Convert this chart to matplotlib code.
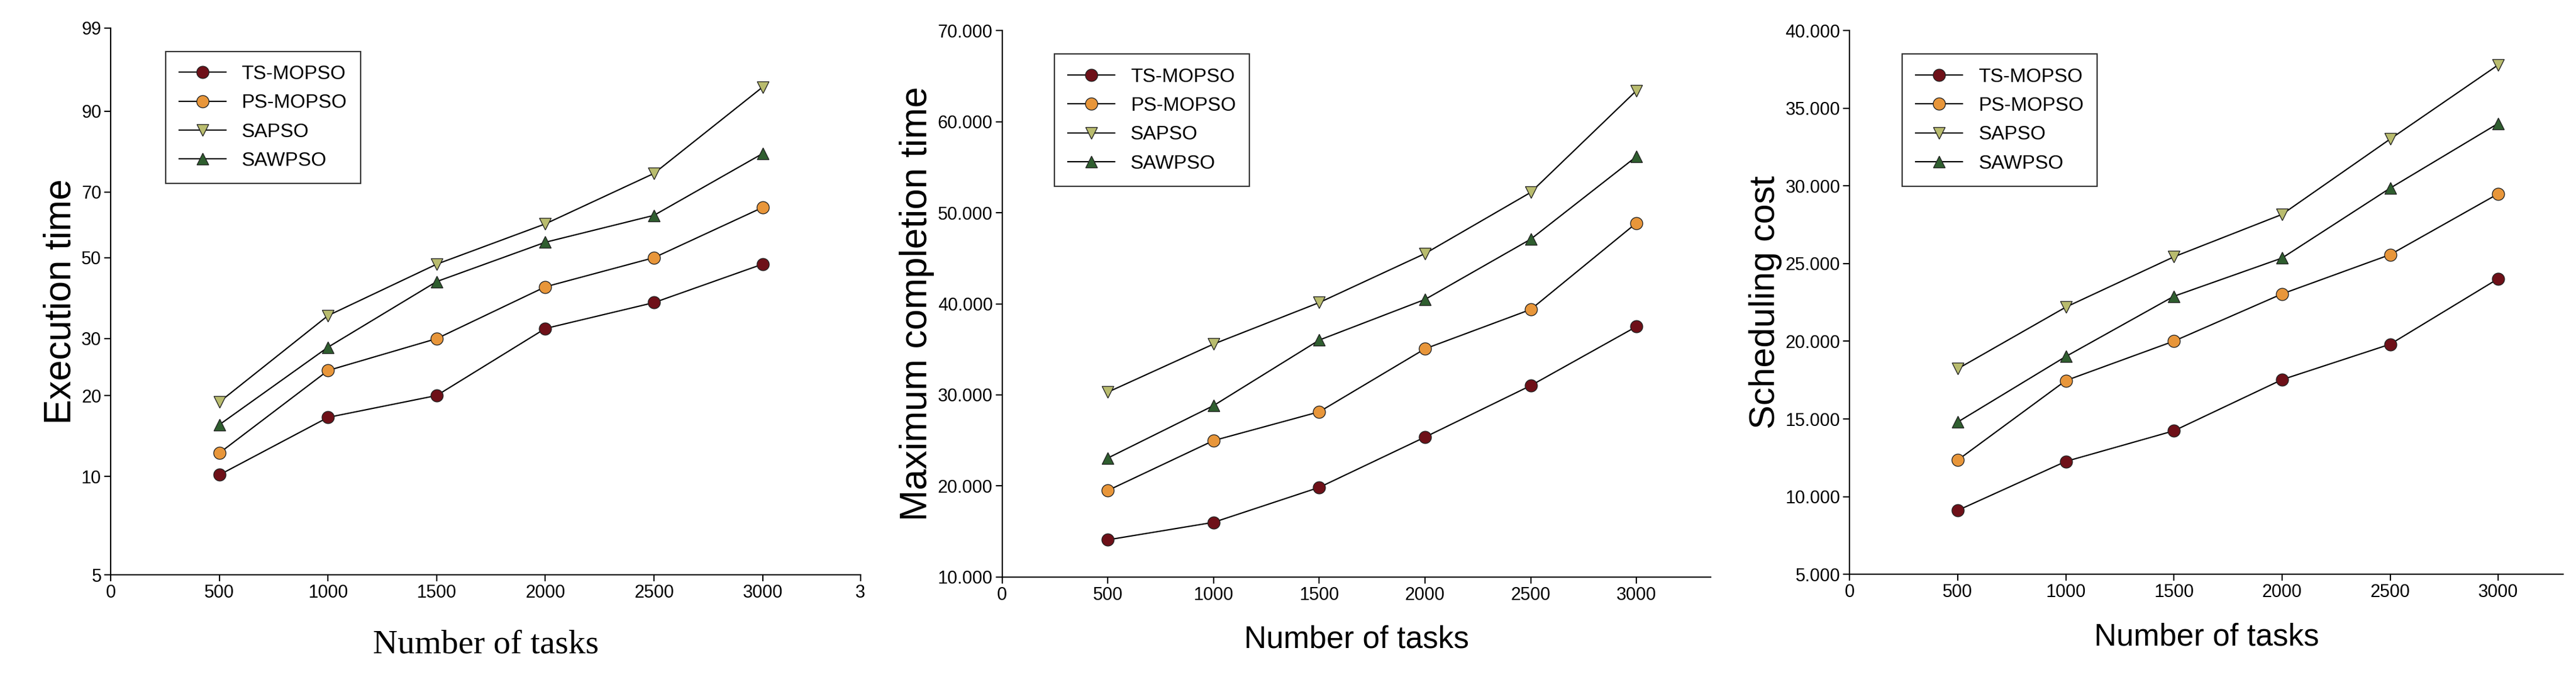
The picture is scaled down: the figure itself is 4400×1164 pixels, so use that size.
import numpy as np
import matplotlib
matplotlib.use("Agg")
import matplotlib.pyplot as plt
from matplotlib.ticker import FuncFormatter

plt.rcParams["font.family"] = ["Liberation Sans", "DejaVu Sans"]

tasks = [500, 1000, 1500, 2000, 2500, 3000]
series = ["TS-MOPSO", "PS-MOPSO", "SAPSO", "SAWPSO"]

exec_time = {
    "TS-MOPSO": [10.2, 17.3, 20.0, 32.5, 38.9, 48.4],
    "PS-MOPSO": [12.9, 24.4, 30.0, 42.8, 50.0, 65.3],
    "SAPSO": [19.2, 35.7, 48.4, 60.3, 74.6, 92.6],
    "SAWPSO": [16.4, 28.5, 44.1, 54.7, 62.9, 79.5],
}
makespan = {
    "TS-MOPSO": [14080, 16000, 19840, 25360, 31020, 37500],
    "PS-MOPSO": [19500, 24980, 28140, 35060, 39380, 48880],
    "SAPSO": [30300, 35580, 40140, 45520, 52240, 63420],
    "SAWPSO": [23060, 28820, 36020, 40480, 47100, 56180],
}
cost = {
    "TS-MOPSO": [9111, 12264, 14236, 17530, 19810, 24034],
    "PS-MOPSO": [12350, 17470, 20010, 23050, 25580, 29500],
    "SAPSO": [18230, 22200, 25440, 28170, 33020, 37800],
    "SAWPSO": [14800, 19020, 22900, 25360, 29860, 34030],
}

styles = {
    "TS-MOPSO": dict(marker="o", color="#6e1018"),
    "PS-MOPSO": dict(marker="o", color="#e8963a"),
    "SAPSO": dict(marker="v", color="#b9bc6e"),
    "SAWPSO": dict(marker="^", color="#2f5e2f"),
}

# panel 1 uses a non-uniform y axis: tick values and their relative positions
p1_ticks = [5, 10, 20, 30, 50, 70, 90, 99]
p1_pos = np.array([0, 225, 410, 540, 725, 875, 1060, 1250], dtype=float)


def fwd(v):
    return np.interp(v, p1_ticks, p1_pos)


def inv(p):
    return np.interp(p, p1_pos, p1_ticks)


fig = plt.figure(figsize=(44, 11.64), dpi=100)
axes = [
    fig.add_axes([0.043, 0.157, 0.291, 0.802]),
    fig.add_axes([0.389, 0.154, 0.275, 0.801]),
    fig.add_axes([0.718, 0.158, 0.277, 0.797]),
]

dot_fmt = FuncFormatter(lambda v, _: f"{v / 1000:.3f}")


def draw(ax, data):
    for s in series:
        st = styles[s]
        ax.plot(tasks, data[s], color="black", lw=1.6, marker=st["marker"],
                markersize=15, markerfacecolor=st["color"],
                markeredgecolor="#222222", markeredgewidth=1.0, label=s)
    for sp in ("top", "right"):
        ax.spines[sp].set_visible(False)
    for sp in ("left", "bottom"):
        ax.spines[sp].set_linewidth(1.6)
    ax.tick_params(labelsize=22, width=1.6, length=8)
    leg = ax.legend(loc="upper left", bbox_to_anchor=(0.06, 0.975), fontsize=24,
                    frameon=True, fancybox=False, edgecolor="black",
                    borderpad=0.7, labelspacing=0.55, handlelength=2.4)
    leg.get_frame().set_linewidth(1.6)


ax = axes[0]
ax.set_yscale("function", functions=(fwd, inv))
draw(ax, exec_time)
ax.set_ylim(5, 99)
ax.set_yticks(p1_ticks)
ax.set_yticklabels([str(t) for t in p1_ticks])
ax.set_xlim(0, 3450)
ax.set_xticks([0, 500, 1000, 1500, 2000, 2500, 3000, 3450])
ax.set_xticklabels(["0", "500", "1000", "1500", "2000", "2500", "3000", "3"])
ax.set_ylabel("Execution time", fontsize=46)
ax.set_xlabel("Number of tasks", fontsize=42, family=["Liberation Serif"], labelpad=34)

ax = axes[1]
draw(ax, makespan)
ax.set_ylim(10000, 70000)
ax.set_yticks(range(10000, 70001, 10000))
ax.yaxis.set_major_formatter(dot_fmt)
ax.set_xlim(0, 3350)
ax.set_xticks(range(0, 3001, 500))
ax.set_ylabel("Maximum completion time", fontsize=46)
ax.set_xlabel("Number of tasks", fontsize=38, labelpad=26)

ax = axes[2]
draw(ax, cost)
ax.set_ylim(5000, 40000)
ax.set_yticks(range(5000, 40001, 5000))
ax.yaxis.set_major_formatter(dot_fmt)
ax.set_xlim(0, 3300)
ax.set_xticks(range(0, 3001, 500))
ax.set_ylabel("Scheduling cost", fontsize=44)
ax.set_xlabel("Number of tasks", fontsize=38, labelpad=26)

fig.savefig("out.png", dpi=100)
